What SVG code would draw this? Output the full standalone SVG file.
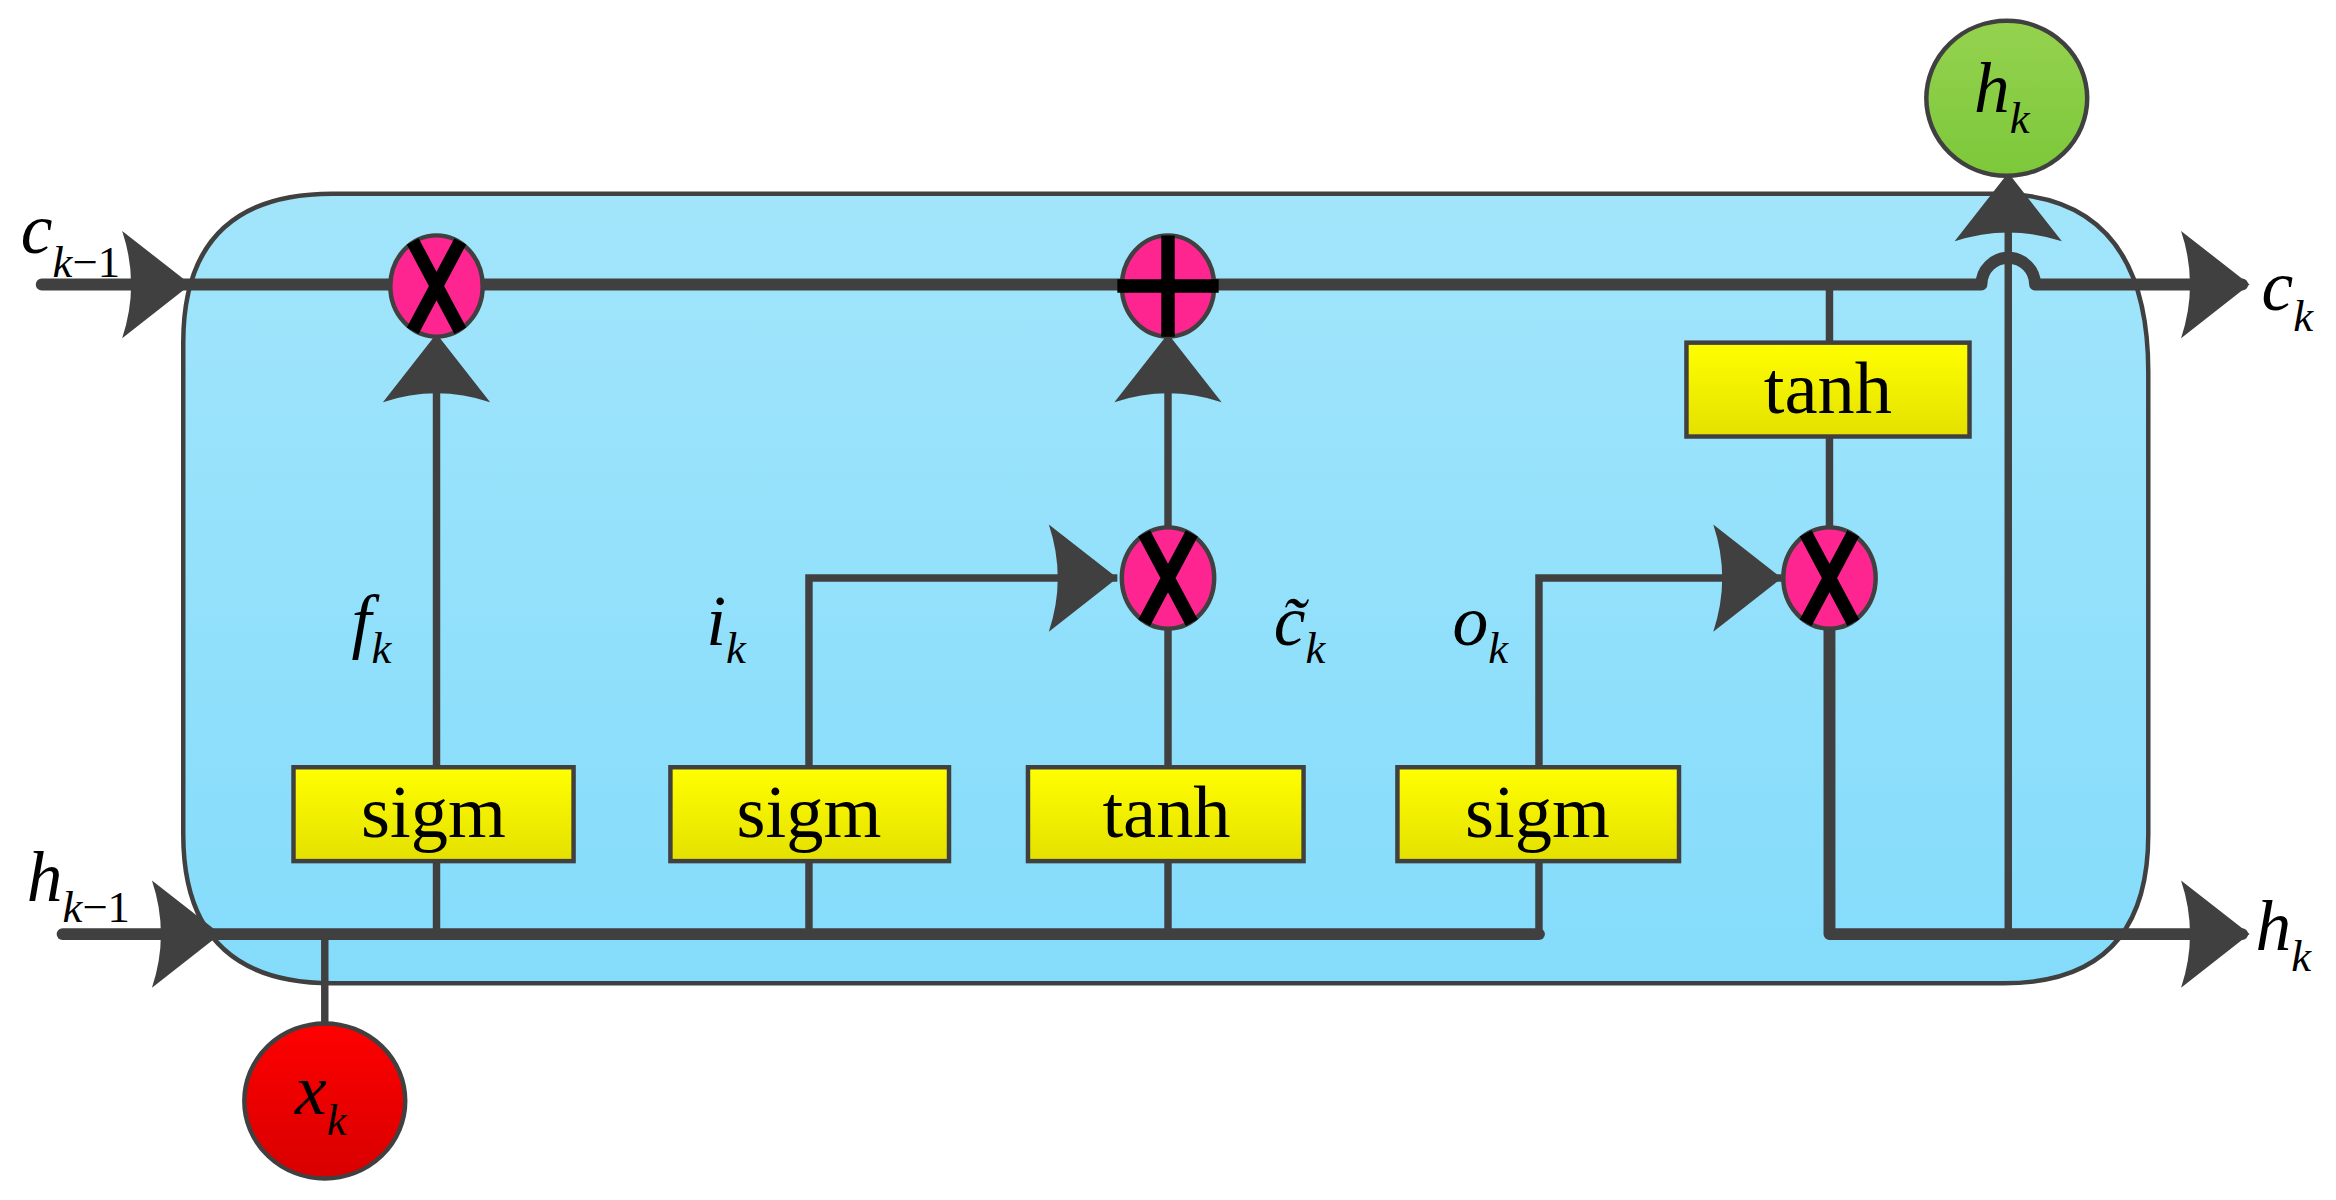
<svg xmlns="http://www.w3.org/2000/svg" width="2336" height="1200" viewBox="0 0 2336 1200">
<style>
.ln{stroke:#404040;stroke-width:8;fill:none;stroke-linecap:round;stroke-linejoin:round}
.thin{stroke:#404040;stroke-width:5;fill:none}
.gate{fill:url(#gy);stroke:#404040;stroke-width:3}
.gt{font-family:"Liberation Serif",serif;font-size:50px;text-anchor:middle;fill:#000}
.op{fill:#ff2590;stroke:#404040;stroke-width:3}
.lb{font-family:"Liberation Serif",serif;font-style:italic;font-size:48px;fill:#000}
.sb{font-size:30px}
.mk{stroke:#000;stroke-width:9;fill:none}
</style>
<defs>
<linearGradient id="gb" x1="0" y1="0" x2="0" y2="1"><stop offset="0" stop-color="#a2e5fb"/><stop offset="1" stop-color="#84dcfb"/></linearGradient>
<linearGradient id="gy" x1="0" y1="0" x2="0" y2="1"><stop offset="0" stop-color="#ffff00"/><stop offset="1" stop-color="#e4e000"/></linearGradient>
<linearGradient id="gr" x1="0" y1="0" x2="0" y2="1"><stop offset="0" stop-color="#ff0000"/><stop offset="1" stop-color="#d80000"/></linearGradient>
<linearGradient id="gg" x1="0" y1="0" x2="0" y2="1"><stop offset="0" stop-color="#95d24f"/><stop offset="1" stop-color="#7cc83a"/></linearGradient>
<path id="ah" d="M0,0 L-46,-36 Q-34,0 -46,36 Z" fill="#404040"/>
</defs>
<g transform="scale(1.4898)">
<g id="cell"><path d="M223,130 H1340 Q1442,130 1442,250 V560 Q1442,660 1345,660 H223 Q123,660 123,560 V230 Q123,130 223,130 Z" fill="url(#gb)" stroke="#404040" stroke-width="3"/></g>
<g id="connectors">
<path class="ln" d="M28,191 H1330 A18,18 0 0 1 1366,191 H1505"/>
<path class="ln" d="M42,627 H1033"/>
<path class="thin" d="M218,627 V686"/>
<path class="thin" d="M293,515 V230 M293,578 V627"/>
<path class="thin" d="M543,515 V388 H750 M543,578 V627"/>
<path class="thin" d="M784,515 V224 M784,578 V627"/>
<path class="thin" d="M1033,515 V388 H1196 M1033,578 V627"/>
<path class="thin" d="M1228,191 V230 M1228,293 V357"/>
<path class="ln" d="M1228,420 V627 H1505"/>
<path class="thin" d="M1348,627 V120"/>
<use href="#ah" transform="translate(128,191)"/>
<use href="#ah" transform="translate(148,627)"/>
<use href="#ah" transform="translate(1510,191)"/>
<use href="#ah" transform="translate(1510,627)"/>
<use href="#ah" transform="translate(750,388)"/>
<use href="#ah" transform="translate(1196,388)"/>
<use href="#ah" transform="translate(293,224) rotate(-90)"/>
<use href="#ah" transform="translate(784,224) rotate(-90)"/>
<use href="#ah" transform="translate(1348,116) rotate(-90)"/>
</g>
<g id="mul1"><ellipse class="op" cx="293" cy="192" rx="31" ry="34"/><path class="mk" d="M277,162 L309,222 M309,162 L277,222"/></g>
<g id="add"><ellipse class="op" cx="784" cy="192" rx="31" ry="34"/><path class="mk" d="M750,192 H818 M784,158 V226"/></g>
<g id="mul2"><ellipse class="op" cx="784" cy="388" rx="31" ry="34"/><path class="mk" d="M768,358 L800,418 M800,358 L768,418"/></g>
<g id="mul3"><ellipse class="op" cx="1228" cy="388" rx="31" ry="34"/><path class="mk" d="M1212,358 L1244,418 M1244,358 L1212,418"/></g>
<g id="g1"><rect class="gate" x="197" y="515" width="188" height="63"/><text class="gt" x="291" y="562">sigm</text></g>
<g id="g2"><rect class="gate" x="450" y="515" width="187" height="63"/><text class="gt" x="543" y="562">sigm</text></g>
<g id="g3"><rect class="gate" x="690" y="515" width="185" height="63"/><text class="gt" x="783" y="562">tanh</text></g>
<g id="g4"><rect class="gate" x="938" y="515" width="189" height="63"/><text class="gt" x="1032" y="562">sigm</text></g>
<g id="g5"><rect class="gate" x="1132" y="230" width="190" height="63"/><text class="gt" x="1227" y="277">tanh</text></g>
<g id="hk"><ellipse cx="1347" cy="66" rx="54" ry="52" fill="url(#gg)" stroke="#404040" stroke-width="3"/><text class="lb" x="1325" y="75">h<tspan class="sb" dy="14">k</tspan></text></g>
<g id="xk"><ellipse cx="218" cy="739" rx="54" ry="52" fill="url(#gr)" stroke="#404040" stroke-width="3"/><text class="lb" x="198" y="748">x<tspan class="sb" dy="14">k</tspan></text></g>
<g id="labels">
<text class="lb" x="14" y="170">c<tspan class="sb" dy="16">k</tspan><tspan class="sb" font-style="normal">−1</tspan></text>
<text class="lb" x="18" y="605">h<tspan class="sb" dy="14">k</tspan><tspan class="sb" font-style="normal">−1</tspan></text>
<text class="lb" x="1518" y="208">c<tspan class="sb" dy="14">k</tspan></text>
<text class="lb" x="1514" y="638">h<tspan class="sb" dy="14">k</tspan></text>
<text class="lb" x="236" y="433">f<tspan class="sb" dy="12">k</tspan></text>
<text class="lb" x="474" y="433">i<tspan class="sb" dy="12">k</tspan></text>
<text class="lb" x="855" y="433">c̃<tspan class="sb" dy="12">k</tspan></text>
<text class="lb" x="975" y="433">o<tspan class="sb" dy="12">k</tspan></text>
</g>
</g>
</svg>
